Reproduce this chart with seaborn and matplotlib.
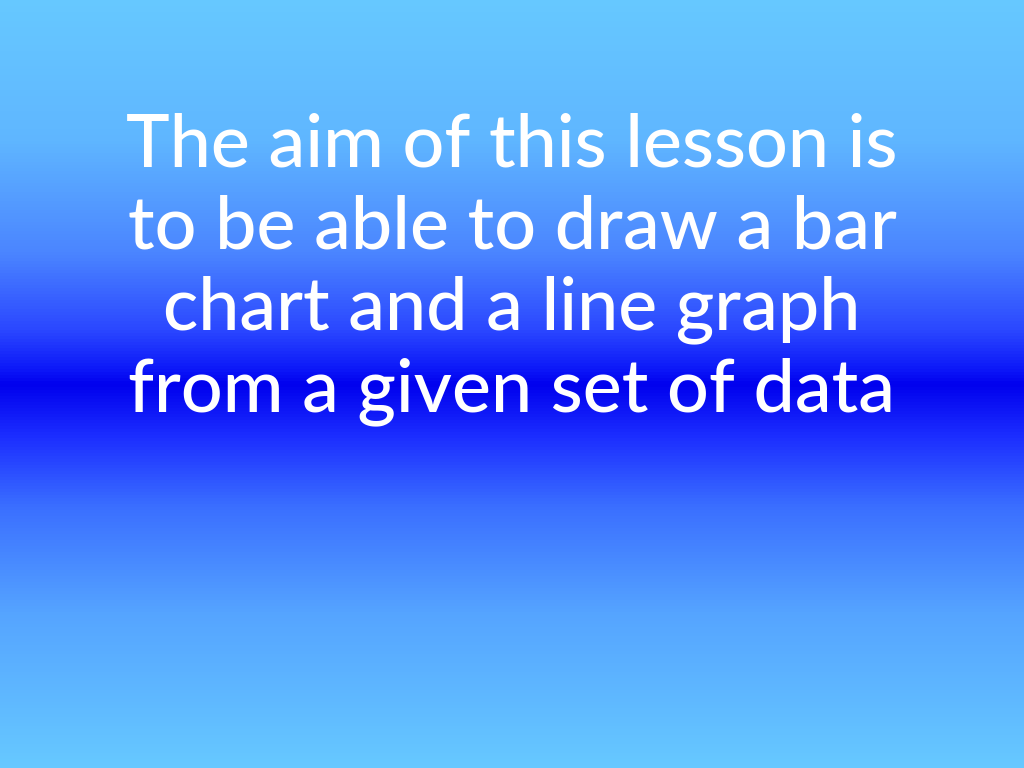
import numpy as np
import pandas as pd
import matplotlib
matplotlib.use("Agg")
import matplotlib.pyplot as plt
from matplotlib.colors import LinearSegmentedColormap
import seaborn as sns

# Background gradient stops (position from top 0..1, colour)
stop_positions = [0.0, 0.18, 0.33, 0.43, 0.48, 0.50, 0.57, 0.66, 0.80, 1.0]
stop_colors = ["#66c8ff", "#5fb6ff", "#4a84ff", "#2a46ff", "#0c18f8", "#0000ee",
               "#1c2eff", "#3a6eff", "#55a4ff", "#66c8ff"]

title_lines = [
    "The aim of this lesson is",
    "to be able to draw a bar",
    "chart and a line graph",
    "from a given set of data",
]

sns.set_theme(style="white")
plt.rcParams['font.family'] = ['Lato', 'DejaVu Sans']

fig = plt.figure(figsize=(10.24, 7.68), dpi=100)
ax = fig.add_axes([0, 0, 1, 1])

cmap = LinearSegmentedColormap.from_list("bg", list(zip(stop_positions, stop_colors)))
grad = pd.DataFrame(np.linspace(0, 1, 768).reshape(-1, 1))
sns.heatmap(grad, ax=ax, cmap=cmap, cbar=False, vmin=0, vmax=1,
            xticklabels=False, yticklabels=False)
ax.set_axis_off()

line_y = [146, 228, 310, 392]
for txt, y in zip(title_lines, line_y):
    fig.text(0.5, 1 - y / 768, txt, ha="center", va="center",
             color="white", fontsize=53, fontweight="medium")

fig.savefig("out.png", dpi=100)
